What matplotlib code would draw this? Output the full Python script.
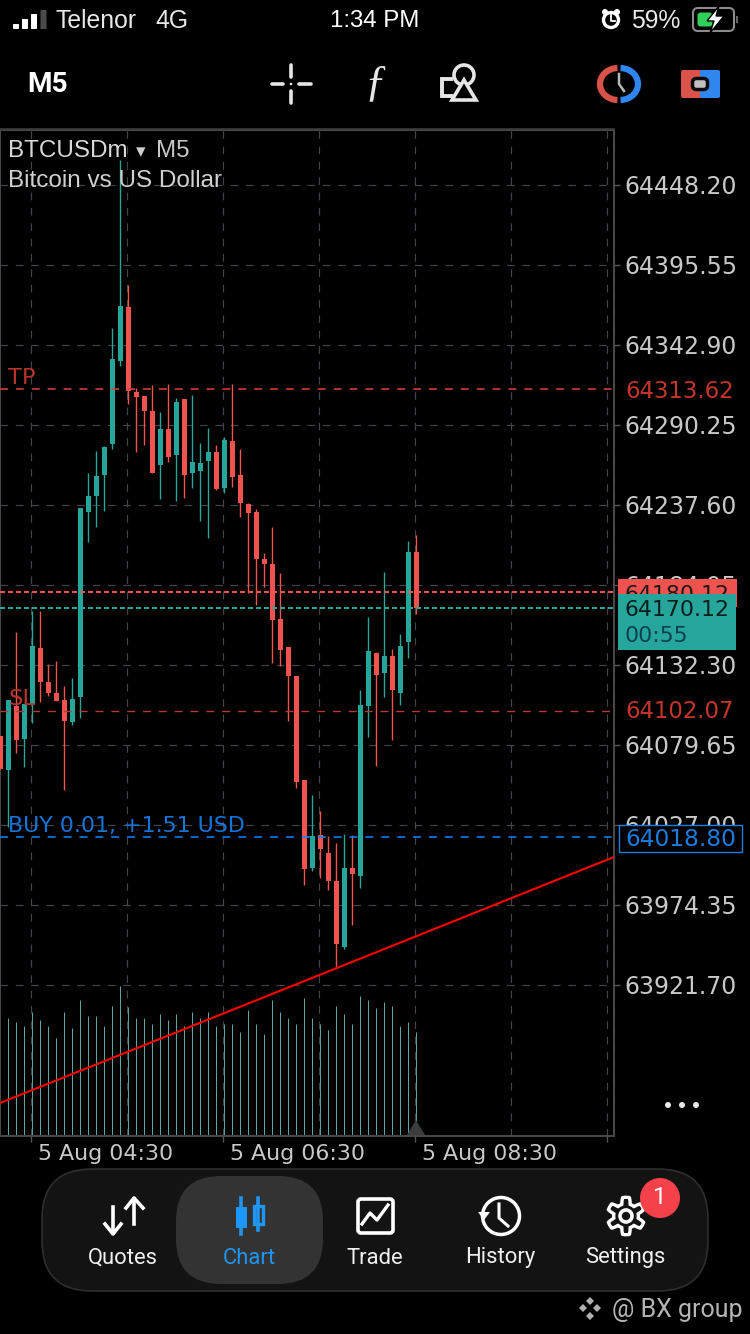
import matplotlib
matplotlib.use('Agg')
import matplotlib.pyplot as plt
import numpy as np
from matplotlib.patches import Rectangle, FancyBboxPatch, Circle, Polygon, Arc

# ---------- data ----------
candle_index = list(range(-1, 52))
highs = [64085.57,64109.26,64154.01,64106.63,64167.84,64167.84,64132.95,64134.93,64118.48,64123.74,64235.62,
         64258.66,64273.14,64276.43,64354.08,64464.65,64382.38,64314.60,64309.33,64316.57,64298.80,64317.23,
         64308.02,64307.36,64309.99,64278.40,64288.27,64277.08,64282.35,64317.23,64274.45,64238.91,64234.96,
         64206.01,64223.12,64192.84,64144.14,64125.06,64056.61,64046.74,64036.21,64019.76,64015.15,64021.07,
         64020.42,64115.84,64163.89,64140.85,64193.50,64142.83,64152.70,64213.90,64217.85]
opens = [64085.57,64063.19,64105.31,64083.60,64105.97,64143.48,64121.11,64113.87,64109.26,64094.78,64111.24,
         64232.99,64243.52,64257.34,64277.74,64332.37,64367.91,64311.97,64309.33,64299.46,64263.92,64287.61,
         64270.50,64307.36,64258.66,64259.97,64266.56,64272.48,64248.78,64279.72,64257.34,64238.25,64232.99,
         64202.06,64198.77,64162.57,64144.14,64125.06,64056.61,63998.70,64020.42,64008.57,63990.14,63946.71,
         63998.70,63993.43,64105.31,64140.19,64127.03,64138.22,64113.87,64147.43,64206.66]
closes = [64063.85,64109.26,64082.94,64106.63,64144.80,64121.11,64113.87,64108.60,64095.44,64109.92,64235.62,
          64243.52,64256.68,64275.77,64333.68,64368.56,64312.62,64308.67,64299.46,64258.66,64287.61,64269.19,
          64305.38,64257.34,64265.90,64265.24,64272.48,64248.13,64280.37,64256.02,64238.91,64232.33,64202.06,
          64198.77,64161.91,64142.17,64125.06,64055.30,63998.04,64019.76,64011.20,63990.14,63948.68,63998.70,
          63994.75,64105.97,64141.51,64125.72,64138.22,64115.84,64144.80,64206.66,64169.81]
lows = [64063.85,64025.68,64074.38,64065.17,64094.13,64107.95,64111.90,64108.60,64050.03,64092.81,64097.42,
        64213.25,64223.12,64233.65,64274.45,64329.08,64304.07,64272.48,64277.08,64258.66,64241.55,64265.90,
        64240.23,64242.20,64248.78,64227.07,64215.88,64247.47,64245.49,64249.44,64229.70,64179.68,64171.78,
        64183.63,64133.61,64131.64,64095.44,64051.35,63987.51,63996.72,63992.12,63984.22,63933.54,63945.39,
        63961.18,63985.54,64084.91,64065.83,64111.24,64082.94,64105.97,64136.90,64165.86]
volume_index = list(range(0, 52))
volumes = [117,113,109,123,115,109,97,123,107,135,119,119,109,129,149,128,117,117,111,121,115,121,109,123,117,123,
           109,111,111,103,125,111,101,135,123,117,111,137,117,111,105,129,121,111,139,135,127,133,129,109,113,103]
price_ticks = [64448.20,64395.55,64342.90,64290.25,64237.60,64184.95,64132.30,64079.65,64027.00,63974.35,63921.70]
time_ticks = [2.875,26.875,50.875,74.875]
time_label_pos = [3.75,27.75,51.75]
time_labels = ['5 Aug 04:30','5 Aug 06:30','5 Aug 08:30']
grid_minor = [14.875,38.875,62.875]
tp_price, sl_price, ask_price, bid_price, buy_price = 64313.62, 64102.07, 64180.12, 64170.12, 64018.80
trend_x = [-1.04, 75.7]
trend_y = [63844.04, 64005.94]

TEAL, RED = '#26a69a', '#ef5350'
GRID = '#43434d'
TXT = '#c8c8c8'
SANS = ['Liberation Sans', 'DejaVu Sans']
W, H = 750, 1334

plt.rcParams['font.family'] = SANS
fig = plt.figure(figsize=(7.5, 13.34), dpi=100, facecolor='black')

def rect(x0, y0, x1, y1):
    return [x0/W, 1-y1/H, (x1-x0)/W, (y1-y0)/H]

# ---------- main price chart ----------
ax = fig.add_axes(rect(0, 130, 614, 1136), facecolor='none', zorder=2)
ax.set_xlim(-1.0375, 75.7)
ax.set_ylim(63822.32, 64484.39)
ax.yaxis.tick_right()
ax.set_yticks(price_ticks)
ax.set_yticklabels([f'{p:.2f}' for p in price_ticks], family='DejaVu Sans', fontsize=17.0, color=TXT)
ax.set_xticks(time_ticks)
ax.set_xticklabels([])
ax.set_xticks(grid_minor, minor=True)
ax.tick_params(axis='y', length=4.3, width=1, color='#555555', pad=3.5)
ax.tick_params(axis='x', which='major', length=4.3, width=1, color='#555555')
ax.tick_params(axis='x', which='minor', length=0)
ax.grid(True, which='both', color=GRID, lw=0.85, ls=(0, (6.5, 6.5)), zorder=0)
ax.set_axisbelow(True)
for s in ax.spines.values():
    s.set_color('#4a4a4a')
    s.set_linewidth(1.4)

sec = ax.secondary_xaxis('bottom')
sec.set_xticks(time_label_pos)
sec.set_xticklabels(time_labels, family='DejaVu Sans', fontsize=15.9, color=TXT, ha='left')
sec.tick_params(length=0, pad=6)
sec.spines['bottom'].set_visible(False)

x = np.array(candle_index, dtype=float)
o, c, h, l = map(np.array, (opens, closes, highs, lows))
cols = [TEAL if ci >= oi else RED for oi, ci in zip(o, c)]
ax.vlines(x, l, h, colors=cols, lw=1.0, zorder=3)
ax.bar(x, np.abs(c-o), bottom=np.minimum(o, c), width=0.625, color=cols, linewidth=0, zorder=3)

# volumes on their own scale at the foot of the chart
vax = fig.add_axes(rect(0, 975, 614, 1135), facecolor='none', zorder=1)
vax.set_xlim(-1.0375, 75.7)
vax.set_ylim(0, 160)
vax.axis('off')
vax.vlines(volume_index, 0, volumes, colors='#56a8a1', lw=0.75)

# price lines
ax.plot(trend_x, trend_y, color='#ff0000', lw=1.5, zorder=5)
ax.axhline(tp_price, color='#e53e3e', lw=1.1, ls=(0, (5.2, 5.2)), zorder=4)
ax.axhline(sl_price, color='#b23c32', lw=1.0, ls=(0, (5.7, 5.7)), zorder=4)
ax.axhline(ask_price, color=RED, lw=1.44, ls=(0, (2.5, 1.5)), zorder=4)
ax.axhline(bid_price, color=TEAL, lw=1.44, ls=(0, (2.5, 1.5)), zorder=4)
ax.axhline(buy_price, color='#0a84ff', lw=1.1, ls=(0, (5.2, 5.2)), zorder=4)

ui = fig.add_axes([0, 0, 1, 1], facecolor='none', zorder=5)
ui.set_xlim(0, W); ui.set_ylim(H, 0); ui.axis('off')

def T(x, y, s, size, color='white', ha='left', weight='normal', family=None, va='center', **k):
    return ui.text(x, y, s, fontsize=size*0.72, color=color, ha=ha, va=va, weight=weight,
                   family=family or SANS, **k)

DV = ['DejaVu Sans']
# chart captions
T(8, 151, 'BTCUSDm', 24.3, color='#d8d8d8')
T(136, 152, '▾', 19, color='#d0d0d0', family=DV)
T(156, 151, 'M5', 24, color='#c8c8c8')
T(8, 181, 'Bitcoin vs US Dollar', 24.3, color='#d0d0d0')
T(8, 378, 'TP', 22.5, color='#b5352d', family=DV)
T(8, 699, 'SL', 22.5, color='#b5352d', family=DV)
T(8, 826, 'BUY 0.01, +1.51 USD', 22.2, color='#1375d8', family=DV)

# price tags on the right
T(625, 391.5, '64313.62', 22.8, color='#c4352c', family=DV)
T(625, 712, '64102.07', 22.8, color='#c4352c', family=DV)
ui.add_patch(Rectangle((618, 579), 119, 28, fc='#ef5350', ec='none', zorder=3))
T(625, 595, '64180.12', 22, color='#1a1a1a', family=DV, zorder=4)
ui.add_patch(Rectangle((618, 594), 118, 56, fc='#26a69a', ec='none', zorder=5))
T(625, 610, '64170.12', 22, color='#0c1c1c', family=DV, zorder=6)
T(625, 636, '00:55', 22, color='#0d3f52', family=DV, zorder=6)
ui.add_patch(Rectangle((618.5, 824.5), 123, 27, fc='black', ec='#1a7de0', lw=1, zorder=3))
T(625, 840, '64018.80', 23.2, color='#1a7de0', family=DV, zorder=4)

# current-bar marker and more dots
ui.add_patch(Polygon([[407, 1135], [416, 1120], [425, 1135]], fc='#3c3c3c', ec='none', zorder=1))
for dx in (668, 682, 696):
    ui.add_patch(Circle((dx, 1105), 3, fc='#e6e6e6', ec='none'))

# ---------- status bar ----------
for bx, top, col in [(13, 24, 'white'), (22, 19, 'white'), (31, 14, 'white'), (40.5, 10, '#4a4a4a')]:
    ui.add_patch(FancyBboxPatch((bx+0.8, top+0.8), 4.4, 29-top-1.6,
                                boxstyle='round,pad=0.8', fc=col, ec='none'))
T(55, 21, 'Telenor', 24.8, color='#e8e8e8')
T(155, 21, '4G', 24.8, color='#e8e8e8')
T(375, 21, '1:34 PM', 24, color='white', ha='center', weight='normal')
ui.add_patch(Circle((611, 20), 7.5, fc='none', ec='white', lw=2.4))
ui.add_patch(Circle((605, 12), 3, fc='white', ec='none'))
ui.add_patch(Circle((617, 12), 3, fc='white', ec='none'))
ui.plot([611, 611, 615], [15, 21, 21], color='white', lw=1.3)
T(631, 21, '59%', 24.8, color='#e8e8e8')
ui.add_patch(FancyBboxPatch((695, 10), 37, 19, boxstyle='round,pad=2,rounding_size=5',
                            fc='none', ec='#8a8a8a', lw=1.5))
ui.add_patch(FancyBboxPatch((698, 13), 14, 13, boxstyle='round,pad=0.5,rounding_size=3',
                            fc='#30d158', ec='none'))
ui.add_patch(Polygon([[719, 6], [707, 21], [714, 21], [710, 33], [724, 16], [716, 16]],
                     fc='white', ec='black', lw=1))
ui.add_patch(Rectangle((736, 16), 2, 7, fc='#666666', ec='none'))

# ---------- toolbar ----------
T(27, 84, 'M5', 28, color='white', weight='bold', family=['Roboto', 'DejaVu Sans'])
wh = '#e6e6e6'
for seg in ([(272, 84), (283, 84)], [(299, 84), (311, 84)], [(291, 65), (291, 77)], [(291, 91), (291, 103)]):
    ui.plot(*zip(*seg), color=wh, lw=2.6, solid_capstyle='round')
ui.add_patch(Circle((291, 84), 1.3, fc=wh, ec='none'))
T(375, 83, 'ƒ', 44, color=wh, ha='center', family=['Liberation Serif', 'DejaVu Serif'], style='italic')
ui.add_patch(Circle((464, 75), 10, fc='none', ec=wh, lw=2.6))
ui.add_patch(Polygon([[464, 80], [452, 100], [476, 100]], fc='black', ec=wh, lw=2.6, zorder=3))
ui.plot([451, 442, 442, 451], [79, 79, 96, 96], color=wh, lw=2.8, solid_joinstyle='miter')
ui.add_patch(Arc((618, 84), 36, 32, theta1=92, theta2=268, ec='#d9534a', lw=4.5))
ui.add_patch(Arc((620, 84), 36, 32, theta1=-88, theta2=88, ec='#2e86ee', lw=4.5))
ui.plot([619, 619, 624], [74, 84, 91], color='#b8b8b8', lw=1.8)
ui.add_patch(FancyBboxPatch((683, 72), 17, 24, boxstyle='round,pad=2,rounding_size=2', fc='#d9534a', ec='none'))
ui.add_patch(FancyBboxPatch((702, 72), 16, 24, boxstyle='round,pad=2,rounding_size=2', fc='#2e86ee', ec='none'))
ui.add_patch(FancyBboxPatch((694, 80), 12, 8, boxstyle='round,pad=1.5,rounding_size=4', fc='#c0c0c0', ec='#0a0a0a', lw=2.5))
ui.plot([0, 614], [129, 129], color='#3a3a3a', lw=1.2)

# ---------- bottom navigation ----------
ui.add_patch(FancyBboxPatch((42+50, 1169+50), 666-100, 122-100, boxstyle='round,pad=50,rounding_size=50',
                            fc='#131313', ec='#2e2e2e', lw=1.2))
ui.add_patch(FancyBboxPatch((176+45, 1176+45), 147-90, 108-90, boxstyle='round,pad=45,rounding_size=45',
                            fc='#333333', ec='none'))
for nx, lab, col, ny in [(123, 'Quotes', '#f0f0f0', 1258), (249, 'Chart', '#1e96f5', 1259), (375, 'Trade', '#f0f0f0', 1259),
                         (500, 'History', '#f0f0f0', 1258), (625, 'Settings', '#f0f0f0', 1258)]:
    T(nx, ny, lab, 22, color=col, ha='center', family=['Roboto', 'DejaVu Sans'])
# quotes arrows
ui.plot([113, 113], [1207, 1233], color='white', lw=2.6)
ui.plot([105, 113, 121], [1224, 1234, 1224], color='white', lw=2.6)
ui.plot([134, 134], [1199, 1224], color='white', lw=2.6)
ui.plot([126, 134, 143], [1208, 1198, 1208], color='white', lw=2.6)
# chart icon
blue = '#1e96f5'
ui.plot([241, 241], [1198, 1234], color=blue, lw=2.6)
ui.add_patch(Rectangle((236, 1207), 11, 21, fc=blue, ec='none'))
ui.plot([258, 258], [1198, 1230], color=blue, lw=2.6)
ui.add_patch(Rectangle((253.5, 1206), 9, 18, fc='#333333', ec=blue, lw=2.4))
# trade icon
ui.add_patch(FancyBboxPatch((358, 1199), 35, 34, boxstyle='round,pad=0,rounding_size=3', fc='none', ec='white', lw=2.6))
ui.plot([362, 370, 377, 388], [1224, 1213, 1220, 1205], color='white', lw=2.4)
# history icon
ui.add_patch(Arc((501, 1216), 37, 37, theta1=-200, theta2=160, ec='white', lw=2.5))
ui.add_patch(Polygon([[478, 1212], [490, 1212], [484, 1220]], fc='white', ec='none'))
ui.plot([499, 499, 508], [1204, 1218, 1226], color='white', lw=2.2)
# gear icon
gx, gy = 626, 1216
ang = np.deg2rad(np.arange(0, 360, 1))
rad = 15.5 + 3.2*np.clip(2.2*np.cos(6*(ang+np.pi/6)), -1, 1)
ui.add_patch(Polygon(np.c_[gx+rad*np.cos(ang), gy+rad*np.sin(ang)], fc='none', ec='white', lw=2.4))
ui.add_patch(Circle((gx, gy), 6, fc='none', ec='white', lw=2.6))
ui.add_patch(Circle((660, 1198), 20, fc='#f5414a', ec='none', zorder=4))
T(660, 1198, '1', 24, color='white', ha='center', zorder=5, family=['Roboto', 'DejaVu Sans'])
# watermark
for dx, dy in [(0, -7), (-7, 0), (7, 0), (0, 8)]:
    ui.add_patch(Polygon([[590+dx-4, 1308+dy], [590+dx, 1308+dy-4], [590+dx+4, 1308+dy], [590+dx, 1308+dy+4]],
                         fc='#b0b0b0', ec='none'))
T(612, 1310, '@ BX group', 25, color='#b4b4b4', family=['Roboto', 'DejaVu Sans'])

fig.savefig('out.png', dpi=100, facecolor='black')
